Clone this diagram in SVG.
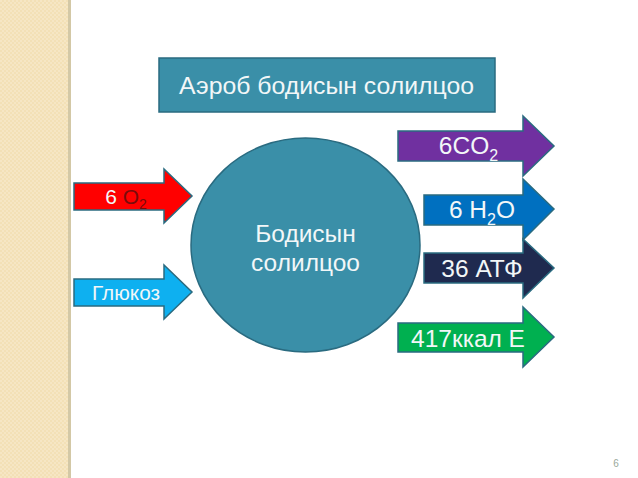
<svg xmlns="http://www.w3.org/2000/svg" width="638" height="478" viewBox="0 0 638 478">
<style>
.t{font-family:"Liberation Sans",Arial,sans-serif;font-size:24.500px;fill:#f2f7f8;text-anchor:middle}
.sub{font-size:16px}
.s{stroke:#2a6b80;stroke-width:1.500}
</style>
<defs>
<pattern id="weave" width="4" height="4" patternUnits="userSpaceOnUse">
<rect width="4" height="4" fill="#f3e0b6"/>
<rect width="2" height="2" fill="#f6e6c4"/>
<rect x="2" y="2" width="2" height="2" fill="#f6e6c4"/>
</pattern>
</defs>
<rect width="638" height="478" fill="#fff"/>
<rect width="68" height="478" fill="url(#weave)"/>
<rect x="68" width="3" height="478" fill="#d3c8a6"/>
<g id="title"><rect x="159" y="58" width="336" height="54" fill="#3a8fa8" class="s"/><text class="t" x="326.500" y="94" style="font-size:24.800px">Аэроб бодисын солилцоо</text></g>
<g id="center"><ellipse cx="305.500" cy="245" rx="114.500" ry="107" fill="#3a8fa8" class="s"/><text class="t" x="305.500" y="242">Бодисын</text><text class="t" x="305.500" y="271">солилцоо</text></g>
<g id="o2"><path d="M74 183H164V169L192 196L164 223V210H74Z" fill="#ff0000" class="s"/><text class="t" x="126" y="204" style="font-size:21px"><tspan>6 </tspan><tspan fill="#7a0b0b">O<tspan font-size="14" dy="5">2</tspan></tspan></text></g>
<g id="glucose"><path d="M74 279H164V265L192 292L164 319V306H74Z" fill="#0eb0f0" class="s"/><text class="t" x="126" y="300" style="font-size:20.800px">Глюкоз</text></g>
<g id="co2"><path d="M398 131H523V116L554 146L523 176V161H398Z" fill="#7030a0" class="s"/><text class="t" x="468.500" y="154">6CO<tspan class="sub" dy="7">2</tspan></text></g>
<g id="h2o"><path d="M424 195H523V179L554 209L523 240V225H424Z" fill="#0070c0" class="s"/><text class="t" x="482" y="218">6 H<tspan class="sub" dy="7">2</tspan><tspan dy="-7">O</tspan></text></g>
<g id="atp"><path d="M424 253H523V239L554 268L523 298V283H424Z" fill="#1f2a4f" class="s"/><text class="t" x="482" y="277">36 АТФ</text></g>
<g id="energy"><path d="M398 323H523V307L554 337L523 367V352H398Z" fill="#00b050" class="s"/><text class="t" x="468" y="347">417ккал Е</text></g>
<text x="616" y="467" style="font-family:'Liberation Sans',Arial,sans-serif;font-size:10px;fill:#9aa89a;text-anchor:middle">6</text>
</svg>
